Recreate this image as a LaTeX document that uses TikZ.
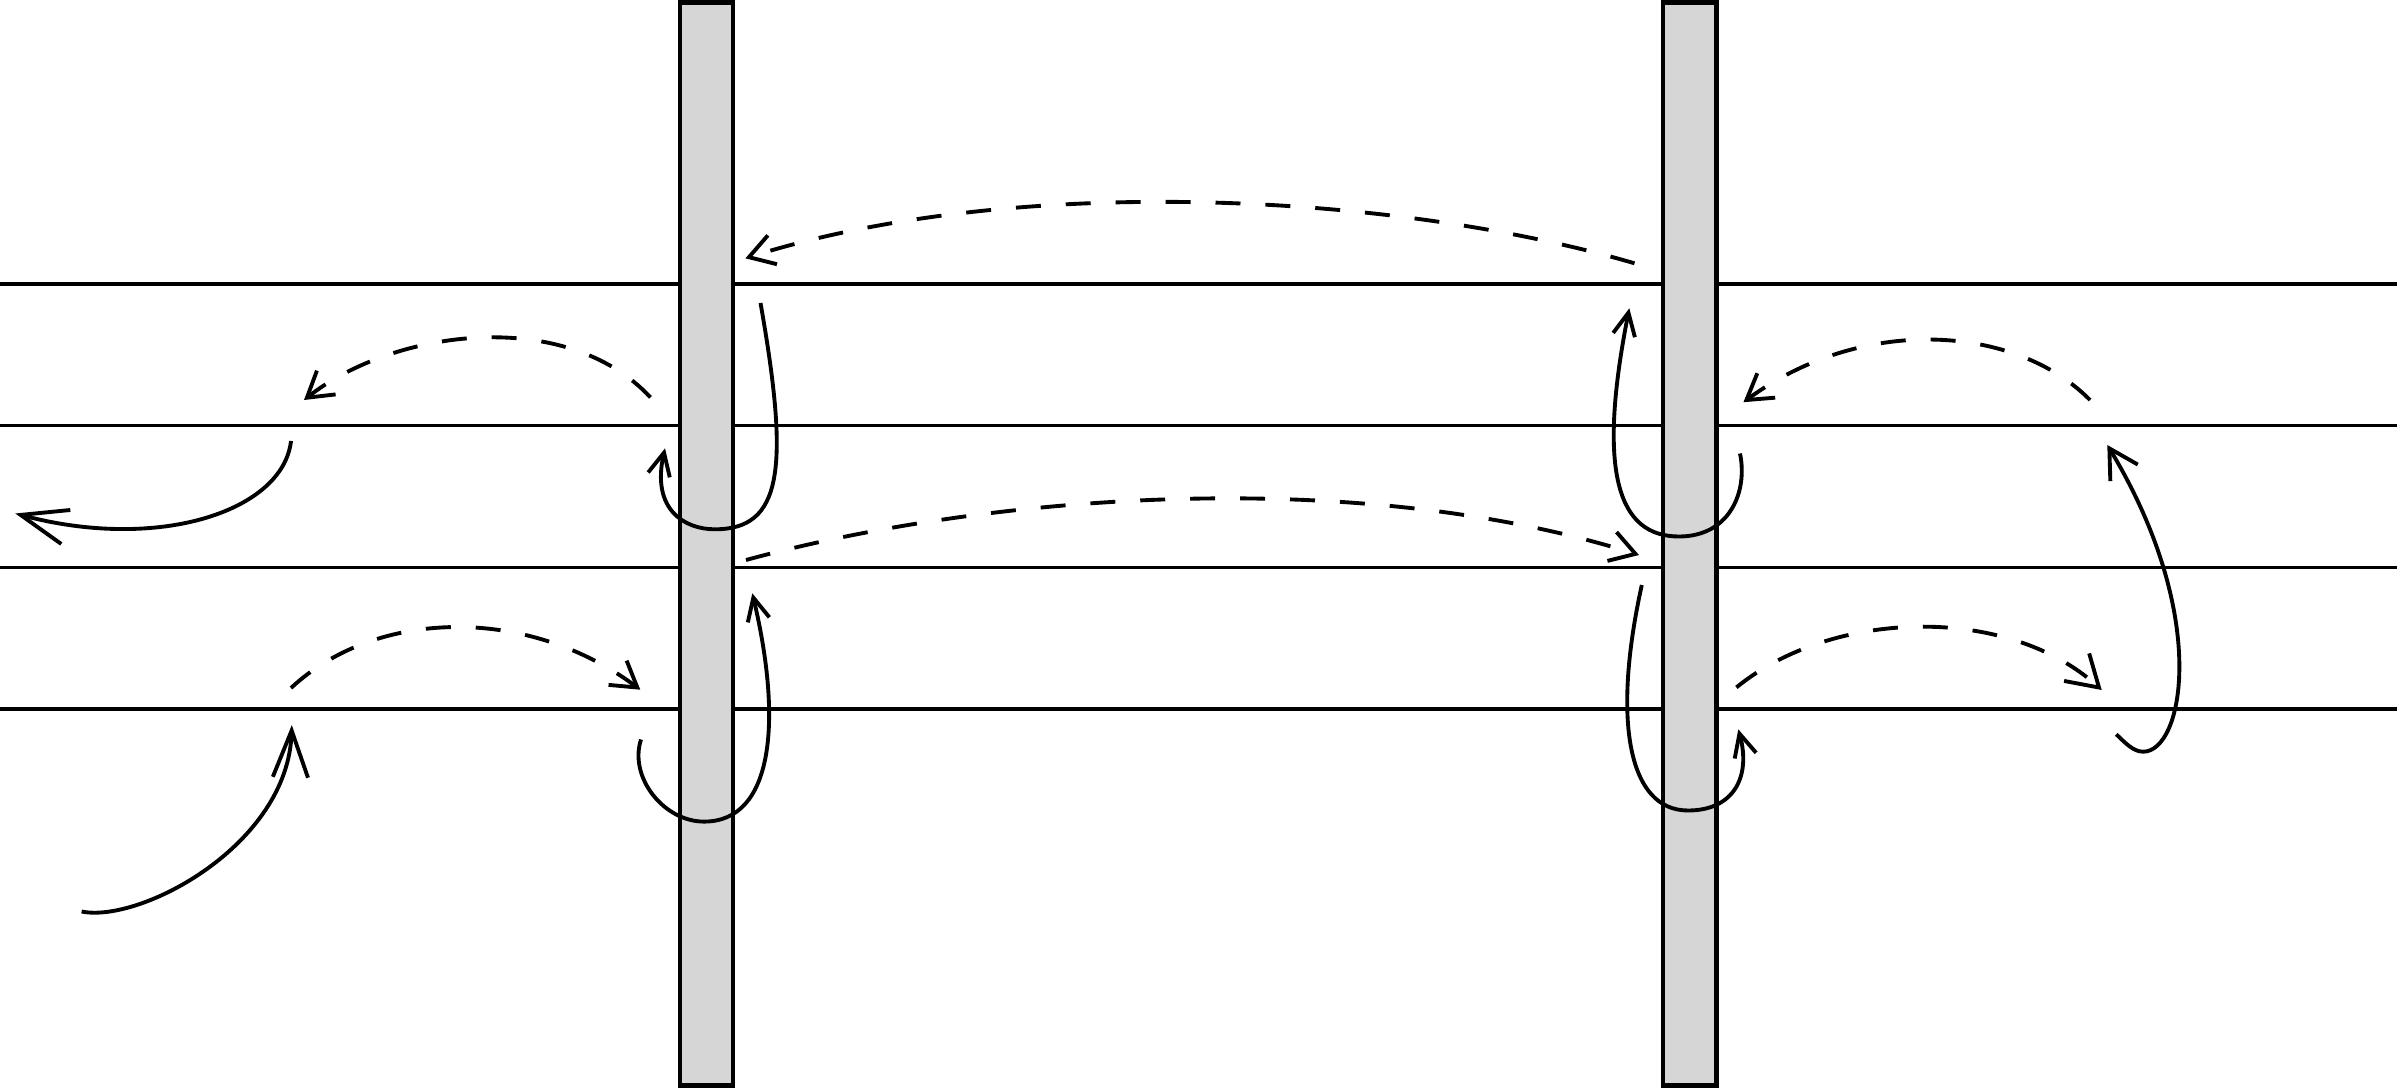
\documentclass[tikz,border=0pt]{standalone}
\usetikzlibrary{arrows.meta}
\definecolor{barfill}{RGB}{214,214,214}
\begin{document}
\begin{tikzpicture}[x=0.01cm,y=-0.01cm,
  hline/.style={line width=1.05pt},
  barbox/.style={draw, fill=barfill, line width=1.25pt},
  solidarc/.style={line width=1.1pt},
  dashedarc/.style={line width=1.1pt, dash pattern=on 7.1pt off 7.1pt, -{Straight Barb[sharp,length=7pt,width=8.6pt]}},
  bigtip/.style={solidarc, -{Straight Barb[sharp,length=13.3pt,width=10pt]}},
  midtip/.style={solidarc, -{Straight Barb[sharp,length=8.1pt,width=9.1pt]}},
  looptip/.style={solidarc, -{Straight Barb[sharp,length=6.5pt,width=6.3pt]}},
]
\useasboundingbox (0,0) rectangle (2397,1088);
% horizontal lines
\foreach \yy in {284,425.5,567.5,709.3} \draw[hline] (0,\yy) -- (2397,\yy);
% bars
\draw[barbox] (680,2.7) rectangle (733,1085.5);
\draw[barbox] (1662.7,2.7) rectangle (1716.5,1085.5);
% left part
\draw[dashedarc] (650.5,397.4) .. controls (565.4,306.2) and (393.9,329.4) .. (304,400);
\draw[bigtip] (291,441) .. controls (283.3,510.3) and (160.2,552.2) .. (15.3,513.5);
\draw[dashedarc] (291,688) .. controls (376,608.8) and (527,605.2) .. (640.3,689.7);
\draw[bigtip] (81.6,911.5) .. controls (139.8,923.5) and (288.6,845) .. (291.8,725);
% loops around bar 1
\draw[looptip] (760.5,303) .. controls (790,470) and (782,529.3) .. (714.8,529.3) .. controls (685,529.3) and (651,510) .. (665,448.3);
\draw[looptip] (641,739.5) .. controls (628.6,777.5) and (664,821.6) .. (704,821.6) .. controls (774,821.6) and (782.3,719.8) .. (752.3,593.3);
% long middle arcs
\draw[dashedarc] (1634.5,263.3) .. controls (1398.6,194.1) and (1018.6,172.2) .. (745.4,258.3);
\draw[dashedarc] (746,560) .. controls (990,493.7) and (1356,466) .. (1639,555);
% loops around bar 2
\draw[looptip] (1740,453.5) .. controls (1748,492.7) and (1729,536.5) .. (1679,536.5) .. controls (1619,536.5) and (1596.3,475.1) .. (1629.3,308.3);
\draw[looptip] (1641.8,585) .. controls (1612,720) and (1628,810.5) .. (1688,810.5) .. controls (1733,810.5) and (1751.3,777.6) .. (1738.3,729.3);
% right part
\draw[dashedarc] (2090,400) .. controls (2016.1,325.1) and (1863.5,314.2) .. (1743.4,402.2);
\draw[midtip] (2116.2,734.3) .. controls (2125,742.5) and (2133,751.7) .. (2143.2,751.7) .. controls (2183.2,751.7) and (2210.5,616.4) .. (2107.3,445);
\draw[dashedarc, -{Straight Barb[sharp,length=8.6pt,width=10.6pt]}] (1736.4,687.4) .. controls (1833,608.6) and (2008,604.7) .. (2101.7,690);
\end{tikzpicture}
\end{document}
